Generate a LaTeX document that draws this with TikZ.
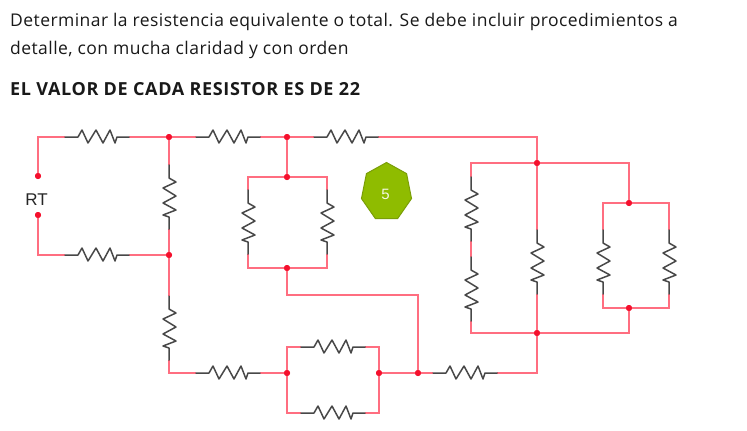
\documentclass[tikz,border=0pt]{standalone}
\usepackage{fontspec}
\setmainfont{Open Sans}
\newfontfamily\rtfont{Liberation Sans}
\newfontfamily\bodyfont[LetterSpace=2.5]{Open Sans}
\newfontfamily\headfont[LetterSpace=3.6]{Open Sans}
\usetikzlibrary{shapes.geometric}
\definecolor{wirepink}{HTML}{FF6E80}
\definecolor{leadgray}{HTML}{484848}
\definecolor{dotred}{HTML}{F5102D}
\definecolor{heptfill}{HTML}{8FBC00}
\definecolor{heptline}{HTML}{7A9E08}
\tikzset{
  x=1pt,y=-1pt,
  wire/.style={draw=wirepink,line width=1.9pt,line join=miter},
  junction/.style={circle,fill=dotred,inner sep=0pt,minimum size=6pt},
  lbl/.style={anchor=base west,inner sep=0pt,text=black!90},
  res/.pic={\draw[leadgray,line width=1.5pt,line join=round,line cap=round]
    (0,0)--(13,0)--(17,-7)--(23,6)--(31,-7)--(38,6)--(45,-7)--(50,6)--(52,0)--(64,0);}
}
\begin{document}
\begin{tikzpicture}
\useasboundingbox[fill=white] (0,0) rectangle (747,431);
% texts
\node[lbl,font=\bodyfont\fontsize{17.5}{20}\selectfont] (t1) at (10,26) {Determinar la resistencia equivalente o total. Se debe incluir procedimientos a};
\node[lbl,font=\bodyfont\fontsize{17.5}{20}\selectfont] (t2) at (10,54) {detalle, con mucha claridad y con orden};
\node[lbl,font=\headfont\fontsize{18}{20}\selectfont\bfseries] (t3) at (10,95) {EL VALOR DE CADA RESISTOR ES DE 22};
\node[anchor=center,inner sep=0pt,font=\rtfont\fontsize{17}{19}\selectfont,text=black!85] (rt) at (36.5,200) {RT};
% corners and wire points
\coordinate (tl) at (38,137); \coordinate (bl) at (38,255);
\coordinate (tr) at (537,137);
\coordinate (c1) at (169,373); \coordinate (c2) at (287,295); \coordinate (c3) at (418,295);
\coordinate (c4) at (537,373);
\coordinate (pa) at (248,177); \coordinate (pb) at (327,177); \coordinate (pc) at (248,268); \coordinate (pd) at (327,268);
\coordinate (qa) at (287,347); \coordinate (qb) at (379,347); \coordinate (qc) at (287,413); \coordinate (qd) at (379,413);
\coordinate (sa) at (471,163); \coordinate (sb) at (629,163); \coordinate (sc) at (471,333); \coordinate (sd) at (629,333);
\coordinate (ua) at (603,203); \coordinate (ub) at (669,203); \coordinate (uc) at (603,308); \coordinate (ud) at (669,308);
% resistor ends
\coordinate (r1a) at (65,137);\coordinate (r1b) at (129,137);
\coordinate (r2a) at (196,137);\coordinate (r2b) at (260,137);
\coordinate (r3a) at (314,137);\coordinate (r3b) at (378,137);
\coordinate (r4a) at (65,255);\coordinate (r4b) at (129,255);
\coordinate (r5a) at (169,165);\coordinate (r5b) at (169,229);
\coordinate (r6a) at (169,296);\coordinate (r6b) at (169,360);
\coordinate (r7a) at (196,373);\coordinate (r7b) at (260,373);
\coordinate (r8a) at (248,190);\coordinate (r8b) at (248,254);
\coordinate (r9a) at (327,190);\coordinate (r9b) at (327,254);
\coordinate (r10a) at (301,347);\coordinate (r10b) at (365,347);
\coordinate (r11a) at (301,413);\coordinate (r11b) at (365,413);
\coordinate (r12a) at (433,373);\coordinate (r12b) at (497,373);
\coordinate (r13a) at (471,177);\coordinate (r13b) at (471,241);
\coordinate (r14a) at (471,257);\coordinate (r14b) at (471,321);
\coordinate (r15a) at (537,230);\coordinate (r15b) at (537,294);
\coordinate (r16a) at (603,230);\coordinate (r16b) at (603,294);
\coordinate (r17a) at (669,230);\coordinate (r17b) at (669,294);
% junction nodes
\node[junction] (tp) at (38,176) {};
\node[junction] (bp) at (38,215) {};
\node[junction] (j1) at (169,137) {};
\node[junction] (j2) at (287,137) {};
\node[junction] (j3) at (169,255) {};
\node[junction] (j4) at (287,177) {};
\node[junction] (j5) at (287,268) {};
\node[junction] (j6) at (287,373) {};
\node[junction] (j7) at (379,373) {};
\node[junction] (j8) at (418,373) {};
\node[junction] (j9) at (537,163) {};
\node[junction] (j10) at (537,333) {};
\node[junction] (j11) at (629,203) {};
\node[junction] (j12) at (629,308) {};
% wires
\draw[wire] (tp.center) -- (tl) -- (r1a);
\draw[wire] (bp.center) -- (bl) -- (r4a);
\draw[wire] (r1b) -- (r2a);
\draw[wire] (r2b) -- (r3a);
\draw[wire] (r4b) -- (j3.center);
\draw[wire] (j1.center) -- (r5a);
\draw[wire] (r5b) -- (r6a);
\draw[wire] (r6b) -- (c1) -- (r7a);
\draw[wire] (r7b) -- (j6.center);
\draw[wire] (j2.center) -- (j4.center);
\draw[wire] (r8a) -- (pa) -- (pb) -- (r9a);
\draw[wire] (r8b) -- (pc) -- (pd) -- (r9b);
\draw[wire] (j5.center) -- (c2) -- (c3) -- (j8.center);
\draw[wire] (r10a) -- (qa) -- (qc) -- (r11a);
\draw[wire] (r10b) -- (qb) -- (qd) -- (r11b);
\draw[wire] (j7.center) -- (r12a);
\draw[wire] (r3b) -- (tr) -- (j9.center);
\draw[wire] (r13a) -- (sa) -- (sb) -- (j11.center);
\draw[wire] (r13b) -- (r14a);
\draw[wire] (r14b) -- (sc) -- (sd) -- (j12.center);
\draw[wire] (j9.center) -- (r15a);
\draw[wire] (r15b) -- (j10.center);
\draw[wire] (r16a) -- (ua) -- (ub) -- (r17a);
\draw[wire] (r16b) -- (uc) -- (ud) -- (r17b);
\draw[wire] (r12b) -- (c4) -- (j10.center);
% resistors
\foreach \r in {r1a,r2a,r3a,r4a,r7a,r10a,r11a,r12a} \pic at (\r) {res};
\foreach \r in {r5a,r6a,r8a,r9a,r13a,r14a,r15a,r16a,r17a} \pic[rotate=-90] at (\r) {res};
% junction dots on top
\foreach \j in {tp,bp,j1,j2,j3,j4,j5,j6,j7,j8,j9,j10,j11,j12}
  \fill[dotred] (\j) circle[radius=3];
% heptagon
\node[regular polygon,regular polygon sides=7,minimum size=59pt,inner sep=0pt,xscale=.87,
      fill=heptfill,draw=heptline,line width=1pt] (hept) at (386.5,192) {};
\node[inner sep=0pt,text=white!90!heptfill,font=\rtfont\fontsize{15}{17}\selectfont] (five) at (385.5,194) {5};
\end{tikzpicture}
\end{document}
